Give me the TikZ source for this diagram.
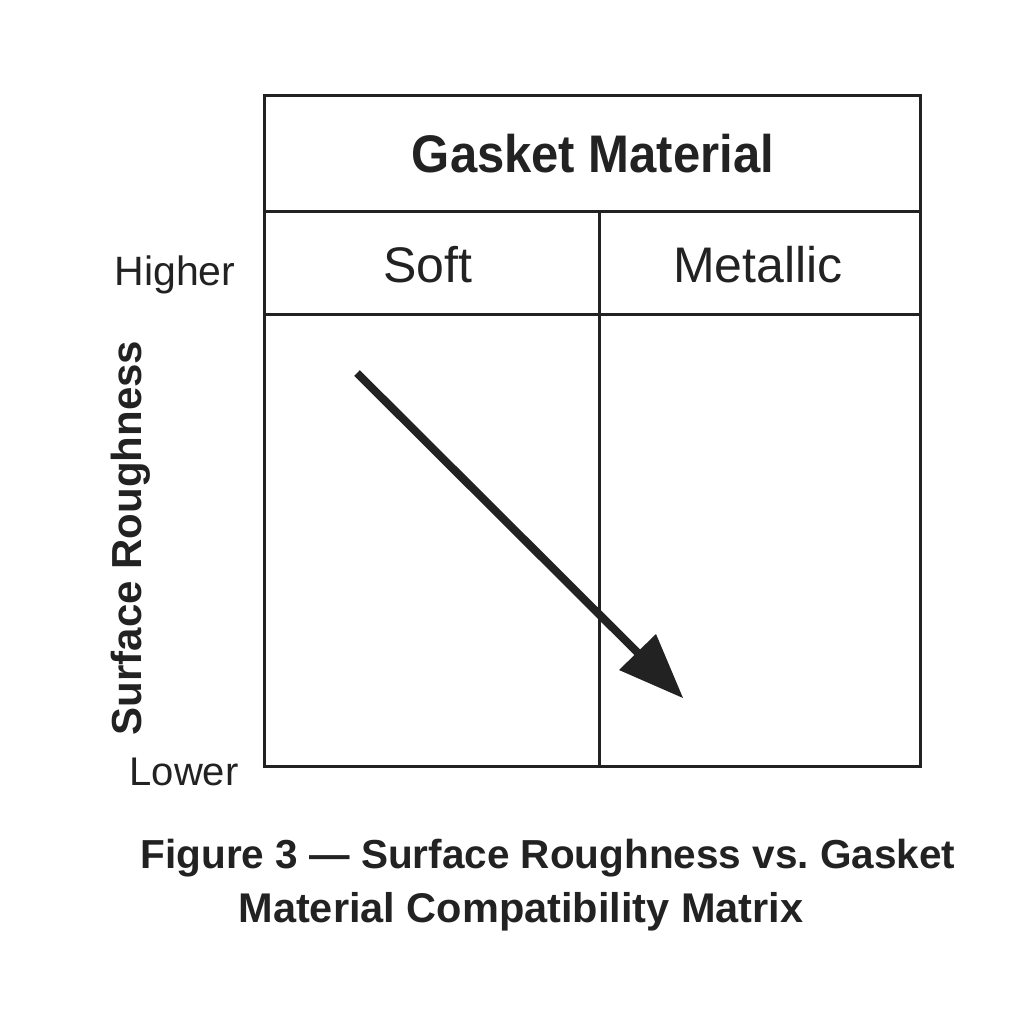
\documentclass[tikz,border=0pt]{standalone}
\usepackage{fontspec}
\setmainfont{Liberation Sans}
\definecolor{ink}{HTML}{222222}
\tikzset{
  grid/.style={draw=ink, line width=3pt},
  lbl/.style={anchor=base, inner sep=0pt, text=ink},
  shaft/.style={draw=ink, line width=8pt},
  head/.style={fill=ink, draw=none}
}
\begin{document}
\begin{tikzpicture}[x=1pt,y=-1pt]
\useasboundingbox (0,0) rectangle (1024,1024);
\fill[white] (0,0) rectangle (1024,1024);
% table
\draw[grid] (264,96) rectangle (920,766);
\draw[grid] (264,212) -- (920,212);
\draw[grid] (264,314) -- (920,314);
\draw[grid] (599,212) -- (599,766);
% labels
\node[lbl, font=\fontsize{49}{55}\selectfont\bfseries, yscale=1.08, transform shape] (gm) at (593,173) {Gasket Material};
\node[lbl, font=\fontsize{50}{56}\selectfont] (soft) at (428,282) {Soft};
\node[lbl, font=\fontsize{50}{56}\selectfont] (met) at (758,282) {Metallic};
\node[lbl, font=\fontsize{41}{46}\selectfont] (hi) at (175,285) {Higher};
\node[lbl, font=\fontsize{40}{46}\selectfont] (lo) at (184,785) {Lower};
\node[lbl, font=\fontsize{42}{48}\selectfont\bfseries, rotate=90] (sr) at (141,538) {Surface Roughness};
\node[lbl, font=\fontsize{40.5}{46}\selectfont\bfseries] (cap1) at (548,868) {Figure 3 — Surface Roughness vs.\ Gasket};
\node[lbl, font=\fontsize{41.5}{46}\selectfont\bfseries] (cap2) at (521,922) {Material Compatibility Matrix};
% arrow
\coordinate (a0) at (357,373);
\coordinate (a1) at (640,655);
\coordinate (tip) at (683,698);
\coordinate (b1) at (619,670);
\coordinate (b2) at (656,634);
\draw[shaft] (a0) -- (a1);
\fill[head] (tip) -- (b1) -- (b2) -- cycle;
\end{tikzpicture}
\end{document}
